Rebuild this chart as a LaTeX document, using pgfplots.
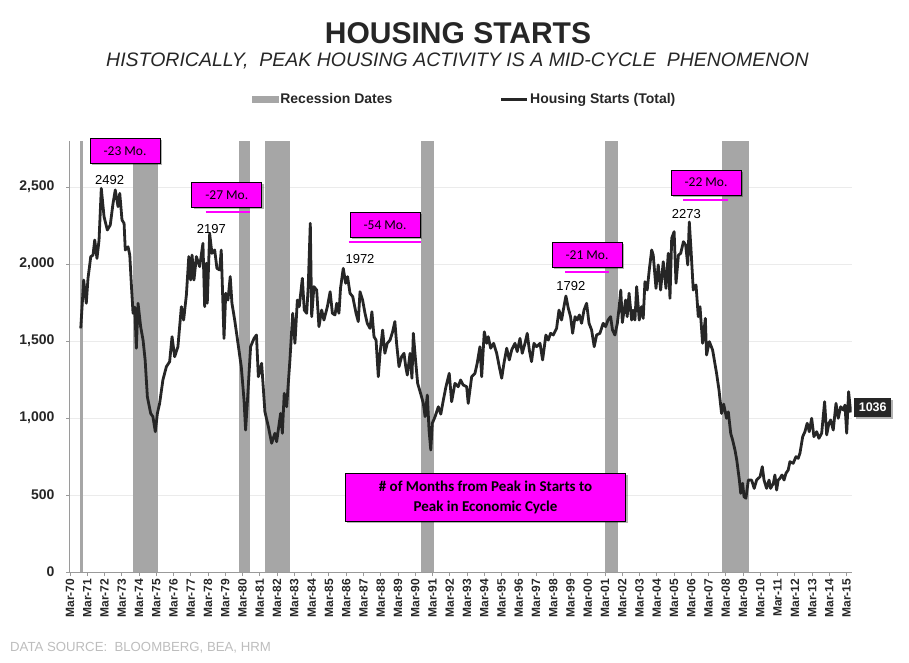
\documentclass[border=0pt]{standalone}
\usepackage{pgfplots}
\pgfplotsset{compat=1.18}
\usepackage{fontspec}
\setmainfont{Liberation Sans}
\newfontfamily\carlito{Carlito}
\usetikzlibrary{shadows}
\definecolor{lineblk}{HTML}{262626}
\definecolor{recgray}{HTML}{A6A6A6}
\definecolor{mag}{HTML}{FF00FF}
\definecolor{gridc}{HTML}{EBEBEB}
\definecolor{axgray}{HTML}{9A9A9A}
\definecolor{srcgray}{HTML}{BDBDBD}
\begin{document}
\begin{tikzpicture}[x=1pt,y=1pt]
\useasboundingbox (0,0) rectangle (909,662);
\begin{axis}[
  at={(70pt,90pt)}, anchor=south west,
  scale only axis, width=781.7pt, height=431.2pt,
  xmin=1970.1667, xmax=2015.46, ymin=0, ymax=2800,
  axis x line*=bottom, axis y line*=left,
  axis line style={axgray, line width=1pt},
  tick style={axgray, line width=0.8pt},
  tick align=outside, major tick length=4pt,
  xtick={1970.1667,1971.1667,1972.1667,1973.1667,1974.1667,1975.1667,1976.1667,1977.1667,1978.1667,1979.1667,1980.1667,1981.1667,1982.1667,1983.1667,1984.1667,1985.1667,1986.1667,1987.1667,1988.1667,1989.1667,1990.1667,1991.1667,1992.1667,1993.1667,1994.1667,1995.1667,1996.1667,1997.1667,1998.1667,1999.1667,2000.1667,2001.1667,2002.1667,2003.1667,2004.1667,2005.1667,2006.1667,2007.1667,2008.1667,2009.1667,2010.1667,2011.1667,2012.1667,2013.1667,2014.1667,2015.1667},
  xticklabels={Mar-70,Mar-71,Mar-72,Mar-73,Mar-74,Mar-75,Mar-76,Mar-77,Mar-78,Mar-79,Mar-80,Mar-81,Mar-82,Mar-83,Mar-84,Mar-85,Mar-86,Mar-87,Mar-88,Mar-89,Mar-90,Mar-91,Mar-92,Mar-93,Mar-94,Mar-95,Mar-96,Mar-97,Mar-98,Mar-99,Mar-00,Mar-01,Mar-02,Mar-03,Mar-04,Mar-05,Mar-06,Mar-07,Mar-08,Mar-09,Mar-10,Mar-11,Mar-12,Mar-13,Mar-14,Mar-15},
  xticklabel style={rotate=90, anchor=east, font=\bfseries\fontsize{12}{13}\selectfont, text=lineblk, inner sep=2.5pt},
  ytick={0,500,1000,1500,2000,2500},
  yticklabel style={font=\bfseries\fontsize{14}{15}\selectfont, text=lineblk, xshift=-8pt},
  /pgf/number format/1000 sep={,},
  /pgf/number format/assume math mode=true,
  ymajorgrids, grid style={gridc, line width=0.8pt},
  legend columns=2,
  legend style={draw=none, fill=none, at={(0.5045,1.096)}, anchor=center,
    font=\bfseries\fontsize{14}{15}\selectfont, text=lineblk,
    /tikz/every even column/.append style={column sep=106pt},
    nodes={inner sep=1.5pt}},
]
\addplot[fill=recgray, draw=none, legend image code/.code={\fill[recgray] (0pt,-3.8pt) rectangle (27pt,3.8pt);}]
  coordinates {(1970.72,2800) (1970.90,2800)} \closedcycle;
\addlegendentry{Recession Dates}
\addplot[fill=recgray, draw=none, forget plot] coordinates {(1973.82,2800) (1975.25,2800)} \closedcycle;
\addplot[fill=recgray, draw=none, forget plot] coordinates {(1979.96,2800) (1980.60,2800)} \closedcycle;
\addplot[fill=recgray, draw=none, forget plot] coordinates {(1981.46,2800) (1982.90,2800)} \closedcycle;
\addplot[fill=recgray, draw=none, forget plot] coordinates {(1990.50,2800) (1991.24,2800)} \closedcycle;
\addplot[fill=recgray, draw=none, forget plot] coordinates {(2001.16,2800) (2001.90,2800)} \closedcycle;
\addplot[fill=recgray, draw=none, forget plot] coordinates {(2007.94,2800) (2009.50,2800)} \closedcycle;
\addplot[lineblk, line width=2.8pt, line join=round, mark=none,
  legend image code/.code={\draw[lineblk, line width=2.8pt] (0pt,0pt) -- (26pt,0pt);}]
coordinates {
(1970.79,1582) (1970.96,1896) (1971.11,1745) (1971.21,1907) (1971.37,2048) (1971.50,2058)
(1971.60,2156) (1971.73,2036) (1971.85,2156) (1971.98,2491) (1972.14,2307) (1972.33,2221)
(1972.50,2253) (1972.66,2394) (1972.79,2481) (1972.95,2372) (1973.05,2459) (1973.18,2286)
(1973.30,2264) (1973.37,2091) (1973.53,2112) (1973.63,2058) (1973.73,1850) (1973.82,1680)
(1973.92,1720) (1974.01,1453) (1974.11,1745) (1974.26,1593) (1974.40,1506) (1974.52,1377)
(1974.65,1138) (1974.84,1030) (1974.97,1009) (1975.11,911) (1975.23,1030) (1975.36,1095)
(1975.55,1247) (1975.75,1333) (1975.94,1366) (1976.08,1528) (1976.23,1398) (1976.42,1463)
(1976.62,1723) (1976.75,1636) (1976.91,1799) (1977.05,2048) (1977.16,1896) (1977.24,2058)
(1977.35,1896) (1977.49,2048) (1977.68,1983) (1977.87,2134) (1977.97,1723) (1978.07,2005)
(1978.12,1745) (1978.26,2197) (1978.39,2069) (1978.55,2091) (1978.68,1972) (1978.84,1961)
(1978.93,2091) (1979.09,1517) (1979.19,1810) (1979.32,1766) (1979.45,1918) (1979.55,1745)
(1979.71,1636) (1979.90,1485) (1980.09,1333) (1980.25,1117) (1980.34,922) (1980.44,1095)
(1980.63,1463) (1980.83,1517) (1980.97,1539) (1981.08,1268) (1981.27,1355) (1981.46,1041)
(1981.66,944) (1981.85,836) (1982.04,901) (1982.14,846) (1982.37,1030) (1982.47,901)
(1982.58,1160) (1982.72,1073) (1982.91,1377) (1983.07,1680) (1983.20,1485) (1983.34,1766)
(1983.45,1723) (1983.63,1907) (1983.74,1701) (1983.88,1680) (1983.97,1853) (1984.09,2264)
(1984.17,1658) (1984.30,1853) (1984.46,1831) (1984.59,1593) (1984.75,1701) (1984.88,1636)
(1985.08,1723) (1985.24,1820) (1985.37,1680) (1985.52,1669) (1985.62,1745) (1985.75,1680)
(1985.84,1842) (1986.00,1972) (1986.14,1875) (1986.25,1918) (1986.39,1810) (1986.55,1788)
(1986.74,1680) (1986.87,1626) (1986.97,1820) (1987.12,1766) (1987.26,1680) (1987.39,1615)
(1987.55,1582) (1987.66,1690) (1987.78,1528) (1987.90,1506) (1988.03,1268) (1988.13,1420)
(1988.28,1571) (1988.41,1420) (1988.55,1485) (1988.71,1506) (1988.86,1560) (1988.99,1626)
(1989.09,1485) (1989.23,1333) (1989.38,1398) (1989.52,1420) (1989.62,1333) (1989.71,1279)
(1989.87,1420) (1989.98,1258) (1990.06,1550) (1990.17,1398) (1990.31,1225) (1990.48,1160)
(1990.64,1095) (1990.74,1009) (1990.87,1149) (1990.97,922) (1991.07,792) (1991.16,966)
(1991.32,1009) (1991.51,1073) (1991.65,1025) (1991.80,1117) (1991.95,1203) (1992.14,1290)
(1992.28,1106) (1992.47,1225) (1992.66,1203) (1992.80,1247) (1992.95,1214) (1993.15,1203)
(1993.24,1095) (1993.44,1268) (1993.63,1290) (1993.76,1355) (1993.92,1463) (1994.02,1268)
(1994.17,1560) (1994.31,1485) (1994.40,1528) (1994.54,1453) (1994.71,1485) (1994.89,1420)
(1995.04,1333) (1995.18,1258) (1995.31,1355) (1995.47,1453) (1995.62,1377) (1995.76,1442)
(1995.95,1485) (1996.08,1431) (1996.24,1517) (1996.37,1420) (1996.53,1485) (1996.66,1550)
(1996.78,1442) (1996.91,1366) (1997.05,1485) (1997.20,1463) (1997.40,1485) (1997.55,1377)
(1997.74,1539) (1997.88,1506) (1998.01,1550) (1998.17,1539) (1998.36,1582) (1998.50,1701)
(1998.65,1636) (1998.75,1701) (1998.90,1792) (1999.04,1712) (1999.17,1658) (1999.29,1550)
(1999.43,1658) (1999.56,1636) (1999.68,1669) (1999.81,1615) (1999.95,1701) (2000.10,1745)
(2000.24,1615) (2000.39,1571) (2000.54,1463) (2000.68,1539) (2000.87,1550) (2001.06,1615)
(2001.20,1593) (2001.34,1636) (2001.49,1658) (2001.60,1571) (2001.74,1539) (2001.88,1615)
(2001.99,1723) (2002.08,1831) (2002.17,1620) (2002.36,1766) (2002.45,1658) (2002.56,1810)
(2002.71,1636) (2002.80,1700) (2002.90,1636) (2003.00,1853) (2003.15,1636) (2003.28,1723)
(2003.38,1647) (2003.48,1885) (2003.61,1831) (2003.73,1961) (2003.87,2091) (2003.96,2058)
(2004.12,1842) (2004.25,1994) (2004.39,1831) (2004.54,2015) (2004.70,1842) (2004.83,2069)
(2004.93,1777) (2005.03,2167) (2005.17,2210) (2005.28,1875) (2005.42,2058) (2005.55,2069)
(2005.71,2145) (2005.84,2123) (2005.96,1994) (2006.05,2273) (2006.15,2091) (2006.28,1831)
(2006.44,1864) (2006.57,1658) (2006.67,1723) (2006.82,1485) (2006.98,1647) (2007.05,1409)
(2007.21,1496) (2007.40,1442) (2007.63,1290) (2007.77,1182) (2007.92,1030) (2008.04,1090)
(2008.21,998) (2008.31,1040) (2008.45,900) (2008.56,857) (2008.70,790) (2008.80,727)
(2008.95,597) (2009.03,511) (2009.14,576) (2009.22,489) (2009.33,479) (2009.47,597)
(2009.66,597) (2009.81,543) (2009.95,597) (2010.15,619) (2010.28,684) (2010.38,597)
(2010.53,543) (2010.67,597) (2010.76,543) (2010.92,576) (2011.01,630) (2011.11,532)
(2011.20,597) (2011.30,608) (2011.42,630) (2011.54,597) (2011.65,641) (2011.78,662)
(2011.88,716) (2012.07,706) (2012.23,749) (2012.36,738) (2012.46,771) (2012.62,879)
(2012.75,911) (2012.88,966) (2013.00,911) (2013.14,998) (2013.27,879) (2013.43,911)
(2013.56,868) (2013.72,901) (2013.89,1106) (2014.01,890) (2014.14,966) (2014.24,987)
(2014.39,922) (2014.55,1095) (2014.68,998) (2014.82,1073) (2014.97,1052) (2015.07,1084)
(2015.17,901) (2015.28,1171) (2015.40,1036)
};
\addlegendentry{Housing Starts (Total)}
\end{axis}
% titles
\node[anchor=base, text=lineblk, font=\bfseries\fontsize{30}{32}\selectfont] at (458,618.7) {HOUSING STARTS};
\node[anchor=base, text=lineblk, font=\itshape\fontsize{19.5}{21}\selectfont] at (457.5,595.3) {HISTORICALLY,\ \ PEAK HOUSING ACTIVITY IS A MID-CYCLE\ \ PHENOMENON};
\node[anchor=base west, inner sep=0pt, text=srcgray, font=\fontsize{13.2}{14}\selectfont] at (10,11) {DATA SOURCE:\ \ BLOOMBERG, BEA, HRM};
% peak labels
\begin{scope}[every node/.style={anchor=base, inner sep=0pt, font=\fontsize{13}{14}\selectfont, text=black}]
\node at (109.7,477.7) {2492};
\node at (211.3,428.7) {2197};
\node at (360,398.7) {1972};
\node at (570.8,371) {1792};
\node at (686.3,443.7) {2273};
\end{scope}
% magenta underlines
\draw[mag, line width=2pt] (205.7,450.3) -- (249.7,450.3);
\draw[mag, line width=2pt] (348.7,420.3) -- (420.7,420.3);
\draw[mag, line width=2pt] (565,389.7) -- (608.7,389.7);
\draw[mag, line width=2pt] (683,462) -- (728,462);
% month boxes
\begin{scope}[every node/.style={draw=black, line width=0.8pt, fill=mag, minimum width=70pt, minimum height=25pt, inner sep=0pt,
   font=\carlito\fontsize{13.5}{14}\selectfont,
   drop shadow={shadow xshift=2pt, shadow yshift=-2pt, fill=black, opacity=0.3}}]
\node at (125,511.2) {-23 Mo.};
\node at (226.8,467) {-27 Mo.};
\node at (385,437.2) {-54 Mo.};
\node at (587,407.2) {-21 Mo.};
\node at (706,479.5) {-22 Mo.};
\end{scope}
\node[draw=black, line width=0.8pt, fill=mag, minimum width=280.4pt, minimum height=47.7pt, inner sep=0pt, align=center,
   font=\carlito\bfseries\fontsize{15}{20}\selectfont,
   drop shadow={shadow xshift=2pt, shadow yshift=-2pt, fill=black, opacity=0.3}] at (485.5,164.8)
   {\# of Months from Peak in Starts to\\Peak in Economic Cycle};
\node[fill=lineblk, text=white, minimum width=36.7pt, minimum height=18.4pt, inner sep=0pt,
   font=\bfseries\fontsize{12.5}{13}\selectfont,
   drop shadow={shadow xshift=2pt, shadow yshift=-2pt, fill=black, opacity=0.3}] at (872.7,254.5) {1036};
\end{tikzpicture}
\end{document}
